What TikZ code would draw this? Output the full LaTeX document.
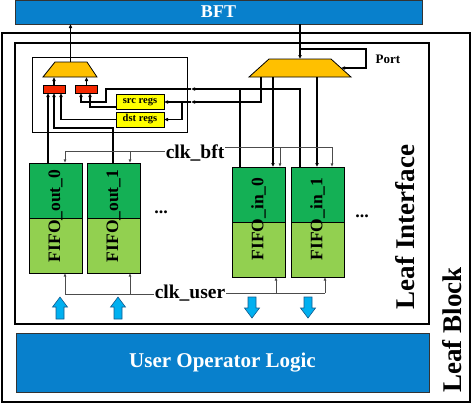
\documentclass[tikz,border=0pt]{standalone}
\usepackage{fontspec}
\setmainfont{Liberation Serif}
\usetikzlibrary{arrows.meta}
\definecolor{bftblue}{RGB}{8,128,204}
\definecolor{muxgold}{RGB}{255,192,0}
\definecolor{regred}{RGB}{245,40,0}
\definecolor{regyel}{RGB}{255,255,0}
\definecolor{dkgreen}{RGB}{20,176,85}
\definecolor{ltgreen}{RGB}{146,208,80}
\definecolor{flowblue}{RGB}{0,176,240}
\definecolor{flowedge}{RGB}{20,90,140}
\tikzset{
  wire/.style={draw=black, line width=1.15pt},
  arr/.style={wire, -{Latex[length=4pt,width=3.8pt]}},
  clkw/.style={draw=black!70, line width=0.75pt},
  clka/.style={clkw, -{Latex[length=3.6pt,width=3pt]}},
  lbl/.style={font=\bfseries\fontsize{19.5}{19.5}\selectfont, inner sep=1pt},
  fifobox/.style={draw, line width=0.8pt, inner sep=0pt, outer sep=0pt, minimum width=53pt, minimum height=110pt},
  fifotext/.style={rotate=90, font=\bfseries\fontsize{17.5}{17.5}\selectfont, inner sep=0pt},
  regbox/.style={draw, line width=0.8pt, fill=regyel, inner sep=0pt, outer sep=0pt, minimum width=48pt, minimum height=15pt, font=\bfseries\fontsize{10.5}{10.5}\selectfont},
  redbox/.style={draw, line width=0.8pt, fill=regred, inner sep=0pt, outer sep=0pt, minimum width=22pt, minimum height=8pt},
  bigblue/.style={draw=black!80, line width=0.8pt, fill=bftblue, inner sep=0pt, outer sep=0pt, text=white},
  flowarrow/.style={fill=flowblue, draw=flowedge, line width=0.6pt},
}
\begin{document}
\begin{tikzpicture}[x=1pt,y=-1pt]
\useasboundingbox (0,0) rectangle (474,405);
% Leaf block
\draw[line width=2.4pt] (2,33) rectangle (470,402);
\node[rotate=90, font=\bfseries\fontsize{27}{27}\selectfont, inner sep=0pt] (lb) at (452,330) {Leaf Block};
% BFT
\node[bigblue, minimum width=407pt, minimum height=24pt, font=\bfseries\fontsize{18}{18}\selectfont] (bft) at (218.5,12) {BFT};
% Leaf interface
\draw[line width=1.5pt] (15,43) rectangle (429,324);
\node[rotate=90, font=\bfseries\fontsize{27}{27}\selectfont, inner sep=0pt] (li) at (405,227) {Leaf Interface};
% User operator logic
\node[bigblue, minimum width=413pt, minimum height=59pt, font=\bfseries\fontsize{21}{21}\selectfont] (uol) at (222.5,362.5) {User Operator Logic};
% inner box
\draw[line width=0.9pt] (32,57) rectangle (187,132);
% muxes
\draw[line width=0.8pt, fill=muxgold] (55,62) -- (87,62) -- (97,77) -- (43,77) -- cycle;
\coordinate (lmuxout) at (70.5,62);
\draw[line width=0.8pt, fill=muxgold] (269,59) -- (331,59) -- (351,77) -- (249,77) -- cycle;
\coordinate (rmuxin) at (300,59);
\coordinate (rmuxport) at (341,68);
% registers
\node[redbox] (redL) at (54,89) {};
\node[redbox] (redR) at (86.5,89) {};
\node[regbox] (src) at (140,101.5) {src regs};
\node[regbox] (dst) at (140,119.5) {dst regs};
% FIFOs
\fill[dkgreen] (29,163) rectangle (82,218);
\fill[ltgreen] (29,218) rectangle (82,273);
\fill[dkgreen] (87,163) rectangle (140,218);
\fill[ltgreen] (87,218) rectangle (140,273);
\fill[dkgreen] (232,167) rectangle (285,222);
\fill[ltgreen] (232,222) rectangle (285,277);
\fill[dkgreen] (291,167) rectangle (344,222);
\fill[ltgreen] (291,222) rectangle (344,277);
\draw[line width=0.8pt] (29,218) -- (82,218) (87,218) -- (140,218) (232,222) -- (285,222) (291,222) -- (344,222);
\node[fifobox] (fo0) at (55.5,218) {};
\node[fifobox] (fo1) at (113.5,218) {};
\node[fifobox] (fi0) at (258.5,222) {};
\node[fifobox] (fi1) at (317.5,222) {};
\node[fifotext] at (55.5,216) {FIFO\_out\_0};
\node[fifotext] at (113.5,216) {FIFO\_out\_1};
\node[fifotext] at (258.5,219) {FIFO\_in\_0};
\node[fifotext] at (317.5,219) {FIFO\_in\_1};
\node[font=\bfseries\fontsize{18}{18}\selectfont] (dotsL) at (161,212) {...};
\node[font=\bfseries\fontsize{18}{18}\selectfont] (dotsR) at (362,216) {...};
% x positions
\coordinate (x48) at (48,0);
\coordinate (x54) at (54,0);
\coordinate (x61) at (61,0);
\coordinate (x81) at (81,0);
\coordinate (x87) at (86.5,0);
\coordinate (x90) at (90,0);
\coordinate (x113) at (113,0);
\coordinate (x240) at (240,0);
\coordinate (x261) at (261,0);
\coordinate (x273) at (273,0);
\coordinate (x300) at (300,0);
\coordinate (x317) at (317,0);
% mux connections
\draw[arr] (lmuxout) -- (lmuxout |- bft.south);
\draw[arr] (bft.south -| rmuxin) -- (rmuxin);
\draw[arr] (300,49) -- (366,49) -- (366,68) -- (rmuxport);
\node[font=\bfseries\fontsize{13}{13}\selectfont, inner sep=0pt] (port) at (388,59) {Port};
\draw[arr] (redL.north -| x54) -- (54,77);
\draw[arr] (redR.north -| x87) -- (86.5,77);
% into left red
\draw[arr] (fo0.north -| x48) -- (redL.south -| x48);
\draw[arr] (fo1.north -| x113) -- (113,128) -- (54,128) -- (redL.south -| x54);
\draw[arr] (dst.west) -- (61,119.5) -- (redL.south -| x61);
% into right red
\draw[arr] (src.west |- 0,107) -- (90,107) -- (redR.south -| x90);
\draw[wire] (fi0.north -| x240) -- (240,89);
\draw[arr] (fi1.north -| x300) -- (300,89) -- (191,89);
\draw[arr] (191,89) -- (106,89) -- (106,102) -- (81,102) -- (redR.south -| x81);
% mux outputs to regs
\draw[arr] (261,77) -- (261,102) -- (191,102);
\draw[arr] (191,102) -- (src.east |- 0,102);
\draw[arr] (182,102) -- (182,119.5) -- (dst.east);
\draw[arr] (273,77) -- (fi0.north -| x273);
\draw[arr] (317,77) -- (fi1.north -| x317);
% clk_bft
\node[lbl] (clkbft) at (195,153) {clk\_bft};
\draw[clkw] (clkbft.west |- 0,151) -- (65,151);
\draw[clka] (65,151) -- (fo0.north -| 65,0);
\draw[clka] (130,151) -- (130,163);
\draw[clkw] (clkbft.east |- 0,147) -- (332,147);
\draw[clka] (280,147) -- (280,167);
\draw[clka] (332,147) -- (332,167);
% clk_user
\node[lbl] (clkuser) at (190,293) {clk\_user};
\draw[clkw] (clkuser.west |- 0,294) -- (65,294);
\draw[clka] (65,294) -- (65,273);
\draw[clka] (130,294) -- (130,273);
\draw[clkw] (clkuser.east |- 0,293) -- (325,293);
\draw[clka] (276,293) -- (276,277);
\draw[clka] (325,293) -- (325,277);
% data flow arrows
\foreach \cx in {60,118}{
  \draw[flowarrow] (\cx,297) -- ({\cx+7.5},307) -- ({\cx+4},307) -- ({\cx+4},319) -- ({\cx-4},319) -- ({\cx-4},307) -- ({\cx-7.5},307) -- cycle;
}
\foreach \cx in {252,308}{
  \draw[flowarrow] (\cx,318) -- ({\cx+7.5},308) -- ({\cx+4},308) -- ({\cx+4},297) -- ({\cx-4},297) -- ({\cx-4},308) -- ({\cx-7.5},308) -- cycle;
}
\end{tikzpicture}
\end{document}
